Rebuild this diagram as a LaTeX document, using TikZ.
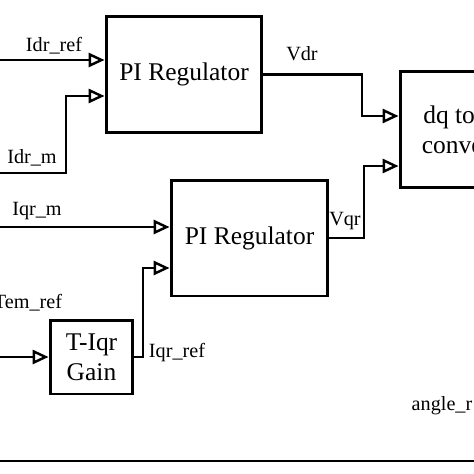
\documentclass[tikz,border=0pt]{standalone}
\usepackage{fontspec}
\setmainfont{Liberation Serif}
\usetikzlibrary{arrows.meta,positioning}

\tikzset{
  blk/.style={draw, line width=1.7pt, inner sep=0pt, align=center,
    font=\fontsize{14.5}{17}\selectfont},
  sig/.style={line width=1.7pt,
    -{Triangle[open,length=9pt,width=8pt,line width=1.4pt]}},
  wire/.style={line width=1.7pt},
  lbl/.style={anchor=base, inner sep=0pt, font=\fontsize{11.5}{13}\selectfont}
}

\begin{document}
\begin{tikzpicture}[x=0.02cm,y=-0.02cm]
\clip (0,0) rectangle (474,474);

% blocks
\node[blk, minimum width=3.12cm, minimum height=2.34cm] (pid) at (184,74.5) {PI Regulator};
\node[blk, minimum width=3.14cm, minimum height=2.32cm] (piq) at (249.5,238) {PI Regulator};
\node[blk, minimum width=1.66cm, minimum height=1.48cm] (gain) at (91.5,357) {T-Iqr\\Gain};
\node[blk, minimum width=2.8cm, minimum height=2.34cm] (dq) at (470,129.5) {dq to abc\\converter};

% inputs and corners
\coordinate (idref) at (0,60);
\coordinate (idm) at (0,173);
\coordinate (idmk) at (66,96);
\coordinate (iqm) at (0,227);
\coordinate (temref) at (0,357);
\coordinate (iqk) at (143,268);
\coordinate (vdk) at (362,116);
\coordinate (vqk) at (364,166);
\coordinate (angl) at (0,461);
\coordinate (angr) at (474,461);

% connectors
\draw[sig] (idref) -- (idref -| pid.west);
\draw[sig] (idm) -| (idmk) -- (idmk -| pid.west);
\draw[sig] (iqm) -- (iqm -| piq.west);
\draw[sig] (temref) -- (gain.west);
\draw[sig] (gain.east) -| (iqk) -- (iqk -| piq.west);
\draw[sig] (pid.east) -| (vdk) -- (vdk -| dq.west);
\draw[sig] (piq.east) -| (vqk) -- (vqk -| dq.west);
\draw[wire] (angl) -- (angr);

% labels
\node[lbl] (lidref) at (54,51) {Idr\_ref};
\node[lbl] (lidm) at (32,163) {Idr\_m};
\node[lbl] (liqm) at (37,215) {Iqr\_m};
\node[lbl] (ltem) at (28,308) {Tem\_ref};
\node[lbl] (liqref) at (177,357) {Iqr\_ref};
\node[lbl] (lvdr) at (302,60) {Vdr};
\node[lbl] (lvqr) at (345,225) {Vqr};
\node[lbl] (lang) at (442,410) {angle\_r};
\end{tikzpicture}
\end{document}
